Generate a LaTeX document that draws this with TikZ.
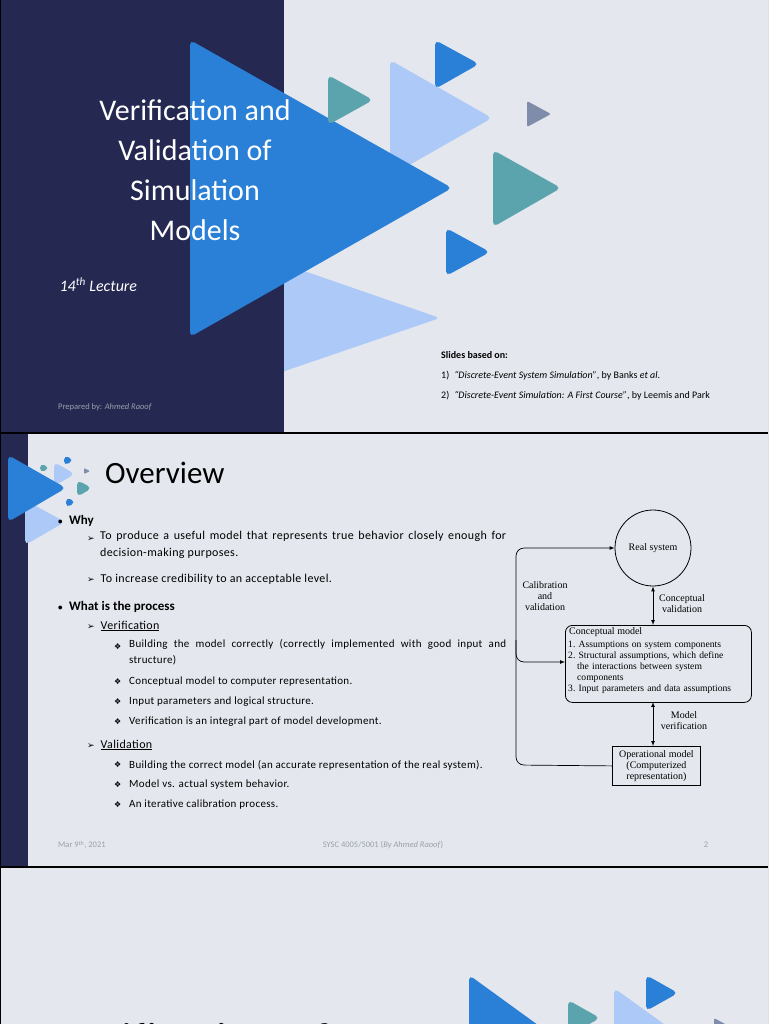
\documentclass[tikz,border=0pt]{standalone}
\usepackage{fontspec}
\setmainfont{Carlito}
\newfontfamily\serifd{Liberation Serif}
\newfontfamily\symf{DejaVu Sans}
\newfontfamily\wide[LetterSpace=3]{Carlito}
\definecolor{navy}{HTML}{252851}
\definecolor{bg}{HTML}{E4E8EE}
\definecolor{tblue}{HTML}{2A7FD6}
\definecolor{lblue}{HTML}{ADC9F7}
\definecolor{teal}{HTML}{5BA3AD}
\definecolor{tgray}{HTML}{7F8CAA}
\definecolor{foot}{HTML}{9A9FAA}
\newcommand{\arr}{{\symf\fontsize{9}{9}\selectfont ➢}}
\newcommand{\dia}{{\symf\fontsize{8}{8}\selectfont ❖}}
\begin{document}
\begin{tikzpicture}[x=1pt,y=-1pt,
  tri/.style={rounded corners=5pt},
  body/.style={anchor=west,font=\wide\fontsize{12}{17}\selectfont,inner sep=0},
  sub/.style={anchor=west,font=\wide\fontsize{11}{16}\selectfont,inner sep=0},
  dg/.style={font=\serifd\fontsize{10}{11}\selectfont,align=center,inner sep=1pt},
  conn/.style={-latex,line width=0.7pt}]
\useasboundingbox (0,0) rectangle (768,1024);
\clip (0,0) rectangle (768,1024);
\fill[bg] (0,0) rectangle (768,1024);
% ---------- slide 1
\fill[lblue,tri] (200,235) -- (440,318) -- (200,400) -- cycle;
\fill[navy] (0,0) rectangle (284,432);
\fill[lblue,tri] (390,60) -- (492,118) -- (390,176) -- cycle;
\fill[tblue,tri] (190,40) -- (452,188) -- (190,337) -- cycle;
\fill[teal,tri] (328,75) -- (373,100) -- (328,125) -- cycle;
\fill[tblue,tri] (435,40) -- (479,64) -- (435,89) -- cycle;
\fill[tgray,rounded corners=2pt] (527,101) -- (551,114) -- (527,127) -- cycle;
\fill[teal,tri] (493,150) -- (561,188) -- (493,227) -- cycle;
\fill[tblue,tri] (446,228) -- (490,252) -- (446,276) -- cycle;
\node[text=white,align=center,font=\fontsize{30}{40}\selectfont] (title) at (195,170)
  {Verification and\\Validation of\\Simulation\\Models};
\node[text=white,anchor=west,font=\itshape\fontsize{16}{18}\selectfont] (lect) at (56,285) {14\textsuperscript{th} Lecture};
\node[anchor=west,font=\bfseries\fontsize{10}{10}\selectfont,inner sep=0] (sb) at (441,355) {Slides based on:};
\node[anchor=west,font=\fontsize{10}{10}\selectfont,inner sep=0] (r1) at (441,376) {1)\enspace\textit{``Discrete-Event System Simulation''}, by Banks \textit{et al}.};
\node[anchor=west,font=\fontsize{10}{10}\selectfont,inner sep=0] (r2) at (441,396) {2)\enspace\textit{``Discrete-Event Simulation: A First Course''}, by Leemis and Park};
\node[anchor=west,text=foot,font=\fontsize{8.5}{9}\selectfont,inner sep=0] (prep) at (58,407) {Prepared by: \textit{Ahmed Raoof}};
% ---------- slide 2
\fill[navy] (0,434) rectangle (28,866);
\fill[lblue,tri] (25,500) -- (65,522) -- (25,545) -- cycle;
\fill[lblue,tri] (54,462) -- (75,474) -- (54,486) -- cycle;
\fill[teal,tri] (40,463) -- (50,468) -- (40,473) -- cycle;
\fill[tblue,tri] (64,455) -- (74,460) -- (64,466) -- cycle;
\fill[tgray,rounded corners=1pt] (84,468) -- (90,471) -- (84,474) -- cycle;
\fill[teal,tri] (77,480) -- (92,488) -- (77,497) -- cycle;
\fill[tblue,tri] (66,497) -- (76,502) -- (66,508) -- cycle;
\fill[tblue,tri] (8,455) -- (66,488) -- (8,522) -- cycle;
\node[anchor=west,font=\fontsize{31}{32}\selectfont,inner sep=0] (ov) at (105,473) {Overview};
\node[body,font=\bfseries\fontsize{13}{14}\selectfont] (why) at (58,521) {{\fontsize{9}{9}\selectfont\textbullet}\enspace Why};
\node[anchor=north west,inner sep=0,text width=406pt,align=justify,font=\wide\fontsize{12}{17}\selectfont] (p1) at (100,531)
 {To produce a useful model that represents true behavior closely enough for\linebreak decision-making purposes.};
\node[body] at (87,539) {\arr};
\node[body] (p2) at (87,579) {\arr\enspace To increase credibility to an acceptable level.};
\node[body,font=\bfseries\fontsize{13}{14}\selectfont] (what) at (58,607) {{\fontsize{9}{9}\selectfont\textbullet}\enspace What is the process};
\node[body] (ver) at (87,626) {\arr\enspace\underline{Verification}};
\node[anchor=north west,inner sep=0,text width=377pt,align=justify,font=\wide\fontsize{11}{16}\selectfont] (v1) at (129,639)
 {Building the model correctly (correctly implemented with good input and\linebreak structure)};
\foreach \yy in {647,682,702,722,765,785,805} \node[body] at (114,\yy) {\dia};
\node[sub] (v2) at (129,682) {Conceptual model to computer representation.};
\node[sub] (v3) at (129,702) {Input parameters and logical structure.};
\node[sub] (v4) at (129,722) {Verification is an integral part of model development.};
\node[body] (val) at (87,745) {\arr\enspace\underline{Validation}};
\node[sub] (a1) at (129,765) {Building the correct model (an accurate representation of the real system).};
\node[sub] (a2) at (129,785) {Model vs. actual system behavior.};
\node[sub] (a3) at (129,805) {An iterative calibration process.};
\node[body,text=foot,font=\fontsize{8.5}{9}\selectfont] (date) at (58,845) {Mar 9\textsuperscript{th}, 2021};
\node[text=foot,font=\fontsize{8.5}{9}\selectfont,inner sep=0] (course) at (383,845) {SYSC 4005/5001 (\textit{By Ahmed Raoof})};
\node[text=foot,font=\fontsize{8.5}{9}\selectfont,inner sep=0] (pg) at (706,845) {2};
% diagram
\node[draw,circle,line width=0.8pt,minimum size=76pt,dg] (real) at (653,548) {Real system};
\node[draw,rounded corners=7pt,line width=0.8pt,minimum width=186pt,minimum height=77pt,anchor=north west,inner sep=0] (conc) at (565,625) {};
\node[anchor=north west,inner sep=0,font=\serifd\fontsize{10}{11}\selectfont,align=left] at (569,627) {Conceptual model};
\node[anchor=north west,inner sep=0,font=\serifd\fontsize{9.6}{11}\selectfont,align=left,text width=184pt] at (568,641)
 {1.~Assumptions on system components\\2.~Structural assumptions, which define\\\hspace*{9pt}the interactions between system\\\hspace*{9pt}components\\3.~Input parameters and data assumptions};
\node[draw,line width=0.8pt,minimum width=88pt,minimum height=39pt,anchor=north west,inner sep=0] (oper) at (612,746) {};
\node[dg] at (oper.center) {Operational model\\(Computerized\\representation)};
\draw[latex-latex,line width=0.7pt] (real.south) -- (real.south |- conc.north);
\draw[latex-latex,line width=0.7pt] (653,702) -- (oper.north -| 653,0);
\coordinate (lt) at (516,548);
\coordinate (lb) at (516,765);
\draw[conn,rounded corners=8pt] (oper.west) -- (lb) -- (lt) -- (real.west);
\draw[conn,rounded corners=8pt] (516,640) -- (516,662) -- (565,662);
\node[dg] (cal) at (545,596) {Calibration\\and\\validation};
\node[dg] (cv) at (682,604) {Conceptual\\validation};
\node[dg] (mv) at (684,721) {Model\\verification};
% ---------- slide 3
\fill[tblue,tri] (469,975) -- (600,1070) -- (469,1165) -- cycle;
\fill[teal,tri] (568,1000) -- (600,1018) -- (568,1036) -- cycle;
\fill[lblue,tri] (614,988) -- (700,1050) -- (614,1110) -- cycle;
\fill[tblue,tri] (646,975) -- (678,993) -- (646,1011) -- cycle;
\fill[tgray,rounded corners=2pt] (714,1018) -- (740,1032) -- (714,1046) -- cycle;
\node[anchor=west,font=\fontsize{48}{50}\selectfont,inner sep=0] (t3) at (56,1040) {Verification of};
% frames
\draw[line width=2pt] (0,433) -- (768,433);
\draw[line width=2pt] (0,867) -- (768,867);
\draw[line width=1pt] (0,0) rectangle (768,1024);
\end{tikzpicture}
\end{document}
